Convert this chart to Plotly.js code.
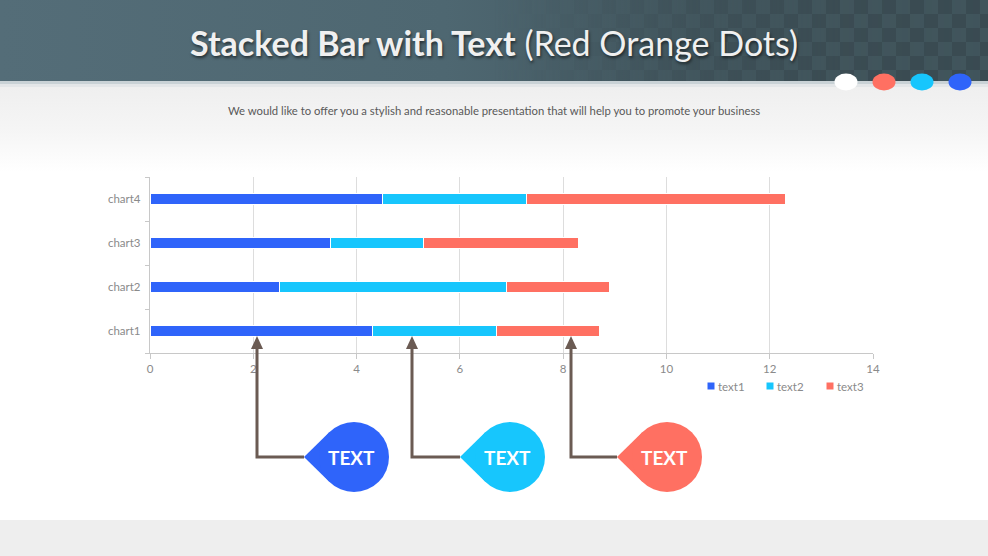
<!DOCTYPE html>
<html>
<head>
<meta charset="utf-8">
<script src="https://cdn.plot.ly/plotly-3.0.1.min.js"></script>
<style>
  html, body { margin: 0; padding: 0; background: #ffffff; }
  #stage { position: relative; width: 988px; height: 556px; overflow: hidden; }
  .bg { position: absolute; left: 0; width: 988px; }
  #header { top: 0; height: 81px; background: linear-gradient(90deg, #546d78 0%, #4e6771 45%, #42565e 75%, #3e5158 100%); }
  #checker { top: 0; height: 81px;
    background: repeating-conic-gradient(#3a4b52 0 25%, #41555c 0 50%) 0 0 / 28px 28px;
    -webkit-mask-image: linear-gradient(90deg, transparent 50%, rgba(0,0,0,0.9) 85%, #000 100%);
    mask-image: linear-gradient(90deg, transparent 50%, rgba(0,0,0,0.9) 85%, #000 100%); }
  #strip1 { top: 81px; height: 3px; background: #c9d2d6; }
  #strip2 { top: 84px; height: 3px; background: #e3e6e8; }
  #fade { top: 87px; height: 85px; background: linear-gradient(180deg, #efefef 0%, #f5f5f5 50%, #ffffff 100%); }
  #footer { top: 520px; height: 36px; background: #eeeeee; }
  #chart { position: absolute; left: 0; top: 0; width: 988px; height: 556px; }
</style>
</head>
<body>
<div id="stage">
  <div class="bg" id="header"></div>
  <div class="bg" id="checker"></div>
  <div class="bg" id="strip1"></div>
  <div class="bg" id="strip2"></div>
  <div class="bg" id="fade"></div>
  <div class="bg" id="footer"></div>
  <div id="chart"></div>
</div>
<script>
// ---- data ----
const categories = ['chart1', 'chart2', 'chart3', 'chart4'];
const seriesNames = ['text1', 'text2', 'text3'];
const text1 = [4.3, 2.5, 3.5, 4.5];
const text2 = [2.4, 4.4, 1.8, 2.8];
const text3 = [2.0, 2.0, 3.0, 5.0];
const xTickVals = [0, 2, 4, 6, 8, 10, 12, 14];
const xTickText = ['0', '2', '4', '6', '8', '10', '12', '14'];
const calloutLabels = ['TEXT', 'TEXT', 'TEXT'];

const titleBold = 'Stacked Bar with Text';
const titleRest = '(Red Orange Dots)';
const subtitle = 'We would like to offer you a stylish and reasonable presentation that will help you to promote your business';

// ---- styling ----
const colors = ['#2F64FA', '#17C6FD', '#FF7062'];
const dotColors = ['#FFFFFF', '#FF7062', '#17C6FD', '#2F64FA'];
const arrowColor = '#6B5B53';
const labelGray = '#8A8A8A';
const FONT = 'Lato, "Open Sans", sans-serif';

// plot area geometry (pixels)
const W = 988, H = 556;
const M = { l: 150, r: 115, t: 177, b: 203, autoexpand: false };
const PW = W - M.l - M.r, PH = H - M.t - M.b;
const px = x => (x - M.l) / PW;          // page px -> paper x
const py = y => (H - M.b - y) / PH;      // page px -> paper y

const values = [text1, text2, text3];
const traces = values.map((v, i) => ({
  type: 'bar',
  orientation: 'h',
  name: seriesNames[i],
  y: categories,
  x: v,
  width: 0.27,
  marker: { color: colors[i], line: { color: '#ffffff', width: 1 } },
  hoverinfo: 'x+name'
}));

const shapes = [];
const annotations = [];

// header dots
[846, 884, 922, 960].forEach((cx, i) => {
  shapes.push({
    type: 'circle', xref: 'paper', yref: 'paper', layer: 'above',
    x0: px(cx - 11.5), x1: px(cx + 11.5), y0: py(82 + 8.5), y1: py(82 - 8.5),
    fillcolor: dotColors[i], line: { width: 0 }
  });
});

// legend: small square swatch followed by series name
const legendXs = [711, 770, 830], legendY = 386;
seriesNames.forEach((n, i) => {
  const lx = legendXs[i];
  shapes.push({
    type: 'rect', xref: 'paper', yref: 'paper', layer: 'above',
    x0: px(lx - 3.5), x1: px(lx + 3.5), y0: py(legendY + 3.5), y1: py(legendY - 3.5),
    fillcolor: colors[i], line: { width: 0 }
  });
  annotations.push({
    xref: 'paper', yref: 'paper', x: px(lx + 5), y: py(legendY),
    xanchor: 'left', yanchor: 'middle', showarrow: false,
    text: n, font: { family: FONT, size: 11.5, color: labelGray }
  });
});

// callout arrows and teardrop labels
const calloutCenters = [354, 510, 667];
const arrowXs = [257, 412, 571];
const cy = 457, R = 35, tipD = 50;
calloutCenters.forEach((cx, i) => {
  const ax = arrowXs[i];
  const tipX = cx - tipD;
  // elbow connector
  shapes.push({
    type: 'path', xref: 'paper', yref: 'paper', layer: 'above',
    path: `M ${px(tipX)} ${py(cy)} L ${px(ax)} ${py(cy)} L ${px(ax)} ${py(346)}`,
    line: { color: arrowColor, width: 3 }
  });
  // arrow head
  shapes.push({
    type: 'path', xref: 'paper', yref: 'paper', layer: 'above',
    path: `M ${px(ax)} ${py(336)} L ${px(ax - 6)} ${py(349)} L ${px(ax + 6)} ${py(349)} Z`,
    fillcolor: arrowColor, line: { width: 0 }
  });
  // teardrop: circle plus pointed wedge
  const off = R / Math.SQRT2;
  shapes.push({
    type: 'path', xref: 'paper', yref: 'paper', layer: 'above',
    path: `M ${px(tipX)} ${py(cy)} L ${px(cx - off)} ${py(cy - off)} L ${px(cx)} ${py(cy)} L ${px(cx - off)} ${py(cy + off)} Z`,
    fillcolor: colors[i], line: { width: 0 }
  });
  shapes.push({
    type: 'circle', xref: 'paper', yref: 'paper', layer: 'above',
    x0: px(cx - R), x1: px(cx + R), y0: py(cy + R), y1: py(cy - R),
    fillcolor: colors[i], line: { width: 0 }
  });
  annotations.push({
    xref: 'paper', yref: 'paper', x: px(cx - 3), y: py(cy),
    xanchor: 'center', yanchor: 'middle', showarrow: false,
    text: `<b>${calloutLabels[i]}</b>`,
    font: { family: FONT, size: 19, color: '#ffffff' }
  });
});

// title and subtitle
annotations.push({
  xref: 'paper', yref: 'paper', x: px(494), y: py(42),
  xanchor: 'center', yanchor: 'middle', showarrow: false,
  text: `<b>${titleBold}</b> ${titleRest}`,
  font: { family: FONT, size: 34, color: '#F0F0F0', shadow: '1px 2px 3px rgba(0,0,0,0.55)' }
});
annotations.push({
  xref: 'paper', yref: 'paper', x: px(494), y: py(110),
  xanchor: 'center', yanchor: 'middle', showarrow: false,
  text: subtitle,
  font: { family: FONT, size: 11.3, color: '#595959' }
});

const layout = {
  width: W, height: H,
  margin: M,
  paper_bgcolor: 'rgba(0,0,0,0)',
  plot_bgcolor: 'rgba(0,0,0,0)',
  barmode: 'stack',
  showlegend: false,
  font: { family: FONT, color: labelGray, size: 11 },
  xaxis: {
    range: [0, 14],
    tickvals: xTickVals, ticktext: xTickText,
    showgrid: true, gridcolor: '#DDDDDD', gridwidth: 1,
    zeroline: false,
    showline: true, linecolor: '#C8C8C8', linewidth: 1.3,
    ticks: 'outside', ticklen: 5, tickcolor: '#C8C8C8',
    tickfont: { family: FONT, size: 11.5, color: labelGray },
    automargin: false,
    fixedrange: true
  },
  yaxis: {
    type: 'category',
    categoryorder: 'array', categoryarray: categories,
    range: [-0.5, 3.5],
    showgrid: false, zeroline: false,
    showline: true, linecolor: '#C8C8C8', linewidth: 1.3,
    ticks: 'outside', ticklen: 4, tickcolor: '#C8C8C8',
    tickson: 'boundaries',
    ticksuffix: '  ',
    tickfont: { family: FONT, size: 11.5, color: labelGray },
    automargin: false,
    fixedrange: true
  },
  shapes: shapes,
  annotations: annotations
};

Plotly.newPlot('chart', traces, layout, { displayModeBar: false, staticPlot: true });
</script>
</body>
</html>
